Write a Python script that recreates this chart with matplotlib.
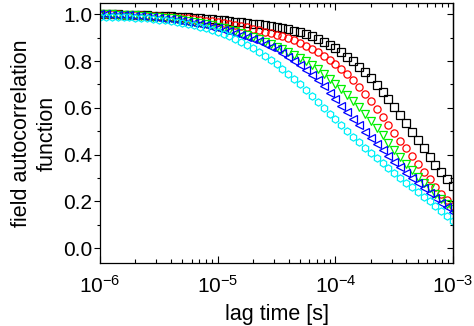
import numpy as np
import matplotlib
matplotlib.use("Agg")
import matplotlib.pyplot as plt
from matplotlib.ticker import LogLocator, FixedLocator, MultipleLocator, NullFormatter

plt.rcParams['font.family'] = ['Liberation Sans', 'DejaVu Sans']
plt.rcParams['mathtext.default'] = 'regular'

# lag times: 20 points per decade from 1e-6 to 1e-3
log_lag = [-6.0 + k * 0.05 for k in range(61)]

g_black = [1.000, 1.000, 0.999, 0.999, 0.998, 0.998, 0.997, 0.996, 0.995, 0.994,
           0.993, 0.992, 0.991, 0.990, 0.988, 0.987, 0.985, 0.983, 0.981, 0.979,
           0.977, 0.975, 0.972, 0.969, 0.966, 0.963, 0.960, 0.957, 0.953, 0.949,
           0.945, 0.941, 0.936, 0.930, 0.922, 0.914, 0.905, 0.894, 0.882, 0.868,
           0.854, 0.837, 0.818, 0.798, 0.776, 0.752, 0.726, 0.698, 0.668, 0.636,
           0.603, 0.569, 0.534, 0.498, 0.462, 0.426, 0.391, 0.357, 0.325, 0.295,
           0.267]
g_red = [1.000, 1.000, 0.999, 0.999, 0.998, 0.997, 0.996, 0.995, 0.994, 0.993,
         0.991, 0.990, 0.988, 0.986, 0.984, 0.982, 0.979, 0.976, 0.973, 0.970,
         0.966, 0.962, 0.958, 0.954, 0.949, 0.944, 0.938, 0.932, 0.926, 0.919,
         0.912, 0.905, 0.897, 0.888, 0.878, 0.866, 0.852, 0.838, 0.822, 0.806,
         0.788, 0.766, 0.743, 0.717, 0.690, 0.660, 0.628, 0.595, 0.562, 0.528,
         0.494, 0.460, 0.426, 0.392, 0.359, 0.326, 0.294, 0.263, 0.232, 0.205,
         0.180]
g_green = [1.000, 1.000, 0.999, 0.998, 0.997, 0.996, 0.995, 0.994, 0.992, 0.990,
           0.988, 0.986, 0.983, 0.980, 0.977, 0.973, 0.969, 0.964, 0.959, 0.953,
           0.947, 0.941, 0.934, 0.927, 0.919, 0.911, 0.902, 0.893, 0.883, 0.873,
           0.862, 0.851, 0.839, 0.826, 0.812, 0.798, 0.782, 0.764, 0.745, 0.725,
           0.703, 0.680, 0.656, 0.630, 0.602, 0.573, 0.543, 0.513, 0.482, 0.451,
           0.420, 0.390, 0.360, 0.332, 0.305, 0.280, 0.255, 0.232, 0.210, 0.188,
           0.167]
g_blue = [1.000, 0.999, 0.998, 0.997, 0.996, 0.995, 0.993, 0.991, 0.989, 0.987,
          0.984, 0.981, 0.978, 0.975, 0.971, 0.967, 0.962, 0.957, 0.952, 0.946,
          0.940, 0.934, 0.927, 0.920, 0.912, 0.904, 0.895, 0.885, 0.874, 0.862,
          0.850, 0.835, 0.818, 0.801, 0.783, 0.763, 0.742, 0.718, 0.692, 0.665,
          0.637, 0.609, 0.580, 0.552, 0.525, 0.498, 0.472, 0.446, 0.420, 0.395,
          0.370, 0.346, 0.322, 0.299, 0.277, 0.256, 0.235, 0.215, 0.195, 0.175,
          0.155]
g_cyan = [0.990, 0.990, 0.990, 0.989, 0.988, 0.987, 0.985, 0.984, 0.982, 0.980,
          0.977, 0.974, 0.971, 0.967, 0.963, 0.958, 0.953, 0.947, 0.940, 0.932,
          0.924, 0.915, 0.905, 0.894, 0.882, 0.869, 0.855, 0.839, 0.823, 0.805,
          0.787, 0.767, 0.746, 0.723, 0.700, 0.675, 0.650, 0.625, 0.600, 0.575,
          0.550, 0.525, 0.500, 0.476, 0.452, 0.429, 0.407, 0.386, 0.362, 0.341,
          0.320, 0.300, 0.280, 0.260, 0.240, 0.220, 0.200, 0.180, 0.160, 0.138,
          0.115]

series = [
    (g_black, 'black', 's'),
    (g_red, '#ff0000', 'o'),
    (g_green, '#00f000', 'v'),
    (g_blue, '#0000ff', '<'),
    (g_cyan, '#00f0f8', 'h'),
]

x_ticks = [1e-6, 1e-5, 1e-4, 1e-3]
x_ticklabels = ['$10^{-6}$', '$10^{-5}$', '$10^{-4}$', '$10^{-3}$']
y_ticks = [0.0, 0.2, 0.4, 0.6, 0.8, 1.0]

fig = plt.figure(figsize=(4.74, 3.26), dpi=100)
ax = fig.add_axes([0.211, 0.193, 0.745, 0.797])

lag = 10.0 ** np.array(log_lag)
for vals, color, marker in series:
    ax.plot(lag, vals, linestyle='none', marker=marker, markersize=5.2,
            markerfacecolor='none', markeredgecolor=color, markeredgewidth=0.9)

ax.set_xscale('log')
ax.set_xlim(1e-6, 1e-3)
ax.set_ylim(-0.064, 1.047)

ax.xaxis.set_major_locator(FixedLocator(x_ticks))
ax.set_xticklabels(x_ticklabels)
ax.xaxis.set_minor_locator(LogLocator(base=10, subs=np.arange(2, 10), numticks=20))
ax.xaxis.set_minor_formatter(NullFormatter())
ax.set_yticks(y_ticks)
ax.set_yticklabels(['%.1f' % v for v in y_ticks])
ax.yaxis.set_minor_locator(MultipleLocator(0.1))

ax.tick_params(axis='x', which='both', direction='in', top=True, labelsize=15, pad=8.5)
ax.tick_params(axis='x', which='major', length=5, width=0.8)
ax.tick_params(axis='x', which='minor', length=3, width=0.8)
ax.tick_params(axis='y', which='both', direction='out', labelsize=15, pad=1.5)
ax.tick_params(axis='y', which='major', length=4, width=0.8)
ax.tick_params(axis='y', which='minor', length=2.5, width=0.8)

right = ax.secondary_yaxis('right')
right.set_yticks(y_ticks)
right.yaxis.set_minor_locator(MultipleLocator(0.1))
right.tick_params(which='both', direction='in', labelright=False)
right.tick_params(which='major', length=4, width=0.8)
right.tick_params(which='minor', length=2.5, width=0.8)
right.spines['right'].set_linewidth(0.9)

for sp in ax.spines.values():
    sp.set_linewidth(0.9)

ax.set_xlabel('lag time [s]', fontsize=15.5, labelpad=5)
ax.set_ylabel('field autocorrelation\nfunction', fontsize=15.5, labelpad=4,
              linespacing=1.3)

fig.savefig('out.png', dpi=100)
